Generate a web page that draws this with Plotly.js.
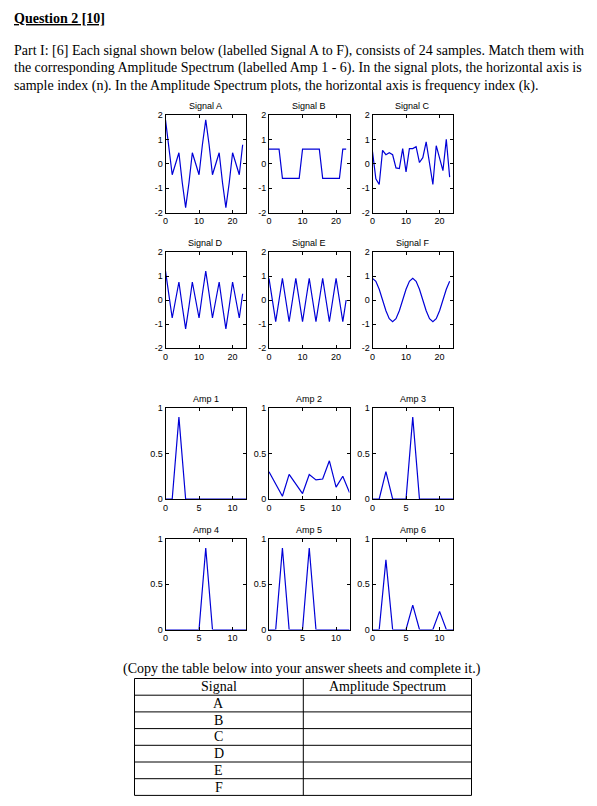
<!DOCTYPE html>
<html>
<head>
<meta charset="utf-8">
<script src="https://cdn.plot.ly/plotly-3.0.1.min.js"></script>
<style>html,body{margin:0;padding:0;background:#fff;}</style>
</head>
<body>
<div id="chart" style="width:597px;height:806px;"></div>
<script>
// ---- data ----
const sampleIndex = [0,1,2,3,4,5,6,7,8,9,10,11,12,13,14,15,16,17,18,19,20,21,22,23];
const signalA = [1.8,0.78,-0.45,0,0.45,-0.78,-1.8,-0.78,0.45,0,-0.45,0.78,1.8,0.78,-0.45,0,0.45,-0.78,-1.8,-0.78,0.45,0,-0.45,0.78];
const signalB = [0.6,0.6,0.6,0.6,-0.6,-0.6,-0.6,-0.6,-0.6,-0.6,0.6,0.6,0.6,0.6,0.6,0.6,-0.6,-0.6,-0.6,-0.6,-0.6,-0.6,0.6,0.6];
const signalC = [0.5,-0.62,-0.85,0.55,0.37,0.45,0.37,-0.17,-0.2,0.62,-0.33,0.62,0.62,0.7,0.05,0.25,0.9,0.02,-0.85,0.74,0.2,-0.28,1.0,-0.55];
const signalD = [1.2,0.26,-0.75,0,0.75,-0.26,-1.2,-0.26,0.75,0,-0.75,0.26,1.2,0.26,-0.75,0,0.75,-0.26,-1.2,-0.26,0.75,0,-0.75,0.26];
const signalE = [0.9,0,-0.9,0,0.9,0,-0.9,0,0.9,0,-0.9,0,0.9,0,-0.9,0,0.9,0,-0.9,0,0.9,0,-0.9,0];
const signalF = [0.9,0.78,0.45,0,-0.45,-0.78,-0.9,-0.78,-0.45,0,0.45,0.78,0.9,0.78,0.45,0,-0.45,-0.78,-0.9,-0.78,-0.45,0,0.45,0.78];

const freqIndex = [0,1,2,3,4,5,6,7,8,9,10,11,12];
const amp1 = [0,0,0.9,0,0,0,0,0,0,0,0,0,0];
const amp2 = [0.30,0.16,0.03,0.27,0.17,0.06,0.27,0.21,0.22,0.42,0.13,0.25,0.07];
const amp3 = [0,0,0.3,0,0,0,0.9,0,0,0,0,0,0];
const amp4 = [0,0,0,0,0,0,0.9,0,0,0,0,0,0];
const amp5 = [0,0,0.9,0,0,0,0.9,0,0,0,0,0,0];
const amp6 = [0,0,0.77,0,0,0,0.27,0,0,0,0.2,0,0];

const signalTitles = ['Signal A','Signal B','Signal C','Signal D','Signal E','Signal F'];
const ampTitles = ['Amp 1','Amp 2','Amp 3','Amp 4','Amp 5','Amp 6'];
const signalTicks = [0,10,20];
const signalYTicks = [-2,-1,0,1,2];
const ampTicks = [0,5,10];
const ampYTicks = [0,0.5,1];

const tableHeader = ['Signal','Amplitude Spectrum'];
const tableSignals = ['A','B','C','D','E','F'];
const tableAnswers = ['','','','','',''];

const headingText = 'Question 2 [10]';
const paragraphLines = [
  'Part I: [6] Each signal shown below (labelled Signal A to F), consists of 24 samples. Match them with',
  'the corresponding Amplitude Spectrum (labelled Amp 1 - 6). In the signal plots, the horizontal axis is',
  'sample index (n). In the Amplitude Spectrum plots, the horizontal axis is frequency index (k).'
];
const copyNote = '(Copy the table below into your answer sheets and complete it.)';

// ---- layout helpers ----
const W = 597, H = 806;
const px = v => v / W;
const py = v => 1 - v / H;
const cols = [[165.5,246],[269,349.5],[372.5,453]];
const rows = [[115,212.5],[252,348],[408,499],[539,629.5]];
const lineColor = 'rgb(0,0,215)';
const tickFont = {family:'Liberation Sans, Arial, sans-serif', size:9, color:'#000'};
const serif = 'Liberation Serif, Times New Roman, serif';

const signals = [signalA, signalB, signalC, signalD, signalE, signalF];
const amps = [amp1, amp2, amp3, amp4, amp5, amp6];

const data = [];
const layout = {
  width: W, height: H,
  margin: {l:0, r:0, t:0, b:0, pad:0},
  paper_bgcolor: '#fff', plot_bgcolor: '#fff',
  showlegend: false,
  annotations: [],
  shapes: []
};

function axisBase() {
  return {
    showline: true, linecolor: '#000', linewidth: 1, mirror: 'ticks',
    ticks: 'inside', ticklen: 3, tickwidth: 1, tickcolor: '#000',
    showgrid: false, zeroline: false, tickfont: tickFont,
    fixedrange: true, automargin: false
  };
}

let idx = 0;
function addPanel(xs, ys, title, r, c, isAmp) {
  idx++;
  const suffix = idx === 1 ? '' : String(idx);
  const xa = 'x' + suffix, ya = 'y' + suffix;
  data.push({
    type: 'scatter', mode: 'lines', x: xs, y: ys,
    xaxis: xa, yaxis: ya,
    line: {color: lineColor, width: 1.2},
    hoverinfo: 'skip'
  });
  layout['xaxis' + suffix] = Object.assign(axisBase(), {
    domain: [px(cols[c][0]), px(cols[c][1])],
    anchor: ya,
    range: isAmp ? [0, 12] : [0, 24],
    tickmode: 'array', tickvals: isAmp ? ampTicks : signalTicks,
    ticktext: (isAmp ? ampTicks : signalTicks).map(String)
  });
  layout['yaxis' + suffix] = Object.assign(axisBase(), {
    domain: [py(rows[r][1]), py(rows[r][0])],
    anchor: xa,
    range: isAmp ? [0, 1] : [-2, 2],
    tickmode: 'array', tickvals: isAmp ? ampYTicks : signalYTicks,
    ticktext: (isAmp ? ampYTicks : signalYTicks).map(String)
  });
  layout.annotations.push({
    xref: 'paper', yref: 'paper',
    x: px((cols[c][0] + cols[c][1]) / 2), y: py(rows[r][0] - 2),
    xanchor: 'center', yanchor: 'bottom', showarrow: false,
    text: title, font: tickFont
  });
}

signals.forEach((s, i) => addPanel(sampleIndex, s, signalTitles[i], Math.floor(i / 3), i % 3, false));
amps.forEach((a, i) => addPanel(freqIndex, a, ampTitles[i], 2 + Math.floor(i / 3), i % 3, true));

// ---- page text ----
layout.annotations.push({
  xref:'paper', yref:'paper', x: px(12), y: py(19), xanchor:'left', yanchor:'middle',
  showarrow:false, text: '<b><span style="text-decoration:underline">' + headingText + '</span></b>',
  font: {family: serif, size: 14, color:'#000'}
});
const lineY = [51, 68.5, 86];
paragraphLines.forEach((t, i) => {
  layout.annotations.push({
    xref:'paper', yref:'paper', x: px(12), y: py(lineY[i]), xanchor:'left', yanchor:'middle',
    showarrow:false, text: t, font: {family: serif, size: 14, color:'#000'}
  });
});
layout.annotations.push({
  xref:'paper', yref:'paper', x: px(302), y: py(669), xanchor:'center', yanchor:'middle',
  showarrow:false, text: copyNote, font: {family: serif, size: 14, color:'#000'}
});

// ---- table (grid + cell texts) ----
const tableLeft = 134.5, tableMid = 303.3, tableRight = 471.5;
const tableTop = 678.5, rowH = 16.7;
const tableRows = [tableHeader].concat(tableSignals.map((s, i) => [s, tableAnswers[i]]));
const tableBottom = tableTop + rowH * tableRows.length;
const tline = {color: '#000', width: 1};
for (let i = 0; i <= tableRows.length; i++) {
  layout.shapes.push({type:'line', xref:'paper', yref:'paper',
    x0: px(tableLeft), x1: px(tableRight), y0: py(tableTop + i * rowH), y1: py(tableTop + i * rowH), line: tline});
}
[tableLeft, tableMid, tableRight].forEach(xv => {
  layout.shapes.push({type:'line', xref:'paper', yref:'paper',
    x0: px(xv), x1: px(xv), y0: py(tableTop), y1: py(tableBottom), line: tline});
});
tableRows.forEach((row, i) => {
  const yc = tableTop + (i + 0.5) * rowH;
  row.forEach((cell, j) => {
    if (cell === '') return;
    const xc = j === 0 ? (tableLeft + tableMid) / 2 : (tableMid + tableRight) / 2;
    layout.annotations.push({
      xref:'paper', yref:'paper', x: px(xc), y: py(yc), xanchor:'center', yanchor:'middle',
      showarrow:false, text: cell, font: {family: serif, size: 14, color:'#000'}
    });
  });
});

Plotly.newPlot('chart', data, layout, {staticPlot: true, displayModeBar: false});
</script>
</body>
</html>
